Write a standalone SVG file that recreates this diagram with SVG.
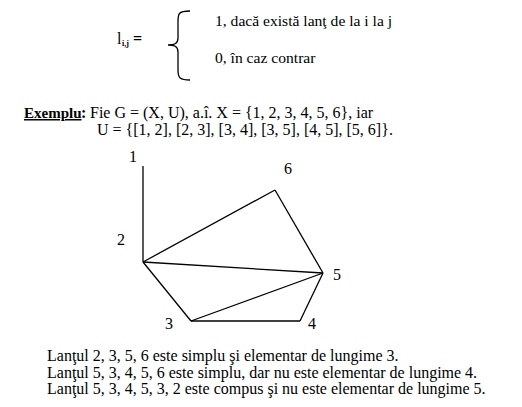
<svg xmlns="http://www.w3.org/2000/svg" width="522" height="407" viewBox="0 0 522 407">
<style>
text{font-family:"Liberation Serif","Times New Roman",serif;font-size:16px;fill:#000}
.lbl{font-size:16px}
.e{stroke:#000;stroke-width:1.3;fill:none}
</style>
<rect width="522" height="407" fill="#fff"/>
<g id="formula">
<text x="117" y="44">l</text>
<text x="122" y="46" style="font-size:8px;font-weight:bold">i,j</text>
<text x="133" y="44" style="font-weight:bold">=</text>
<path class="e" d="M190,11 C178,11 178,14 178,22 L178,38 C178,44 174,45 168,45 C174,45 178,46 178,52 L178,70 C178,78 180,80 190,80" stroke-width="1"/>
<text x="215" y="26" style="font-size:15.6px">1, dacă există lanţ de la i la j</text>
<text x="215" y="63" style="font-size:15.6px">0, în caz contrar</text>
</g>
<g id="example">
<text x="24" y="118" style="font-weight:bold;text-decoration:underline;font-size:15px">Exemplu</text>
<text x="81" y="118" style="font-weight:bold">:</text>
<text x="90" y="118">Fie G = (X, U), a.î. X = {1, 2, 3, 4, 5, 6}, iar</text>
<text x="97" y="135">U = {[1, 2], [2, 3], [3, 4], [3, 5], [4, 5], [5, 6]}.</text>
</g>
<g id="connectors">
<line class="e" x1="143" y1="166" x2="143" y2="262"/>
<line class="e" x1="143" y1="262" x2="275" y2="190"/>
<line class="e" x1="143" y1="262" x2="323" y2="273"/>
<line class="e" x1="143" y1="262" x2="191" y2="321"/>
<line class="e" x1="275" y1="190" x2="323" y2="273"/>
<line class="e" x1="191" y1="321" x2="323" y2="273"/>
<line class="e" x1="191" y1="321" x2="300" y2="321"/>
<line class="e" x1="300" y1="321" x2="323" y2="273"/>
</g>
<g id="n1"><text class="lbl" x="129" y="162">1</text></g>
<g id="n2"><text class="lbl" x="117" y="245">2</text></g>
<g id="n3"><text class="lbl" x="165" y="329">3</text></g>
<g id="n4"><text class="lbl" x="308" y="329">4</text></g>
<g id="n5"><text class="lbl" x="333" y="280">5</text></g>
<g id="n6"><text class="lbl" x="284" y="174">6</text></g>
<g id="notes">
<text x="47" y="361">Lanţul 2, 3, 5, 6 este simplu şi elementar de lungime 3.</text>
<text x="47" y="378">Lanţul 5, 3, 4, 5, 6 este simplu, dar nu este elementar de lungime 4.</text>
<text x="47" y="394">Lanţul 5, 3, 4, 5, 3, 2 este compus şi nu este elementar de lungime 5.</text>
</g>
</svg>
